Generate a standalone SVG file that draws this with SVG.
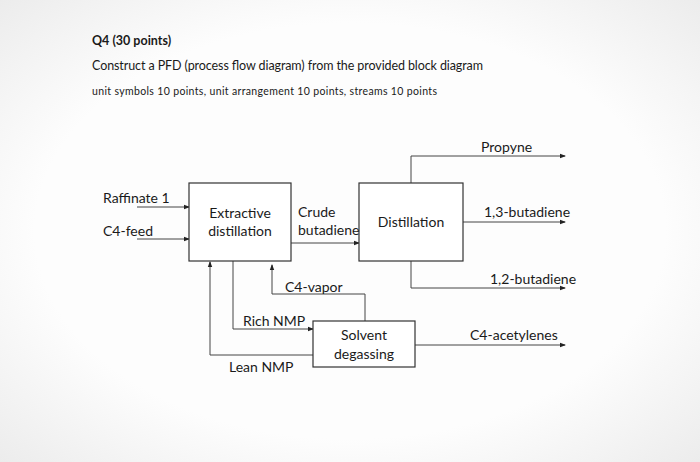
<svg xmlns="http://www.w3.org/2000/svg" width="700" height="462" viewBox="0 0 700 462">
<style>
text{font-family:Lato,"Liberation Sans",sans-serif;fill:#1a1a1a}
.h{font-size:12.5px}
.l{font-size:14px}
.b{fill:#fff;stroke:#333;stroke-width:1.2}
.c{fill:none;stroke:#444;stroke-width:1}
</style>
<defs><marker id="a" markerWidth="6" markerHeight="6" refX="5" refY="3" orient="auto" markerUnits="userSpaceOnUse"><path d="M0,0.8L6,3L0,5.2z" fill="#222"/></marker>
<radialGradient id="bg" cx="0.5" cy="0.5" r="0.75"><stop offset="0.6" stop-color="#fdfdfd"/><stop offset="1" stop-color="#e9e9e9"/></radialGradient></defs>
<rect width="700" height="462" fill="url(#bg)"/>
<text x="92" y="45" class="h" font-weight="bold">Q4 (30 points)</text>
<text x="92" y="70" class="h" textLength="391">Construct a PFD (process flow diagram) from the provided block diagram</text>
<text x="92" y="95" font-size="10.5" textLength="345">unit symbols 10 points, unit arrangement 10 points, streams 10 points</text>
<g id="connectors">
<path class="c" marker-end="url(#a)" d="M137,207H189"/>
<path class="c" marker-end="url(#a)" d="M137,239H189"/>
<path class="c" marker-end="url(#a)" d="M291,243H359"/>
<path class="c" marker-end="url(#a)" d="M411,183V156H565"/>
<path class="c" marker-end="url(#a)" d="M463,222H565"/>
<path class="c" marker-end="url(#a)" d="M411,261V288H565"/>
<path class="c" marker-end="url(#a)" d="M415,345H565"/>
<path class="c" marker-end="url(#a)" d="M233,261V329H313"/>
<path class="c" marker-end="url(#a)" d="M365,321V294H272V265"/>
<path class="c" marker-end="url(#a)" d="M313,355H210V262"/>
</g>
<g id="extractive"><rect class="b" x="189" y="183" width="102" height="78"/><text class="l" x="240" y="218" text-anchor="middle">Extractive</text><text class="l" x="240" y="236" text-anchor="middle">distillation</text></g>
<g id="distillation"><rect class="b" x="359" y="183" width="104" height="78"/><text class="l" x="411" y="227" text-anchor="middle">Distillation</text></g>
<g id="degassing"><rect class="b" x="313" y="321" width="102" height="46"/><text class="l" x="364" y="340" text-anchor="middle">Solvent</text><text class="l" x="364" y="359" text-anchor="middle">degassing</text></g>
<g id="labels">
<text x="103" y="203" class="l">Raffinate 1</text>
<text x="103" y="236" class="l">C4-feed</text>
<text x="298" y="217" class="l">Crude</text>
<text x="298" y="235" class="l">butadiene</text>
<text x="481" y="152" class="l">Propyne</text>
<text x="484" y="217" class="l">1,3-butadiene</text>
<text x="490" y="284" class="l">1,2-butadiene</text>
<text x="470" y="340" class="l">C4-acetylenes</text>
<text x="285" y="292" class="l">C4-vapor</text>
<text x="243" y="326" class="l">Rich NMP</text>
<text x="229" y="372" class="l">Lean NMP</text>
</g>
</svg>
